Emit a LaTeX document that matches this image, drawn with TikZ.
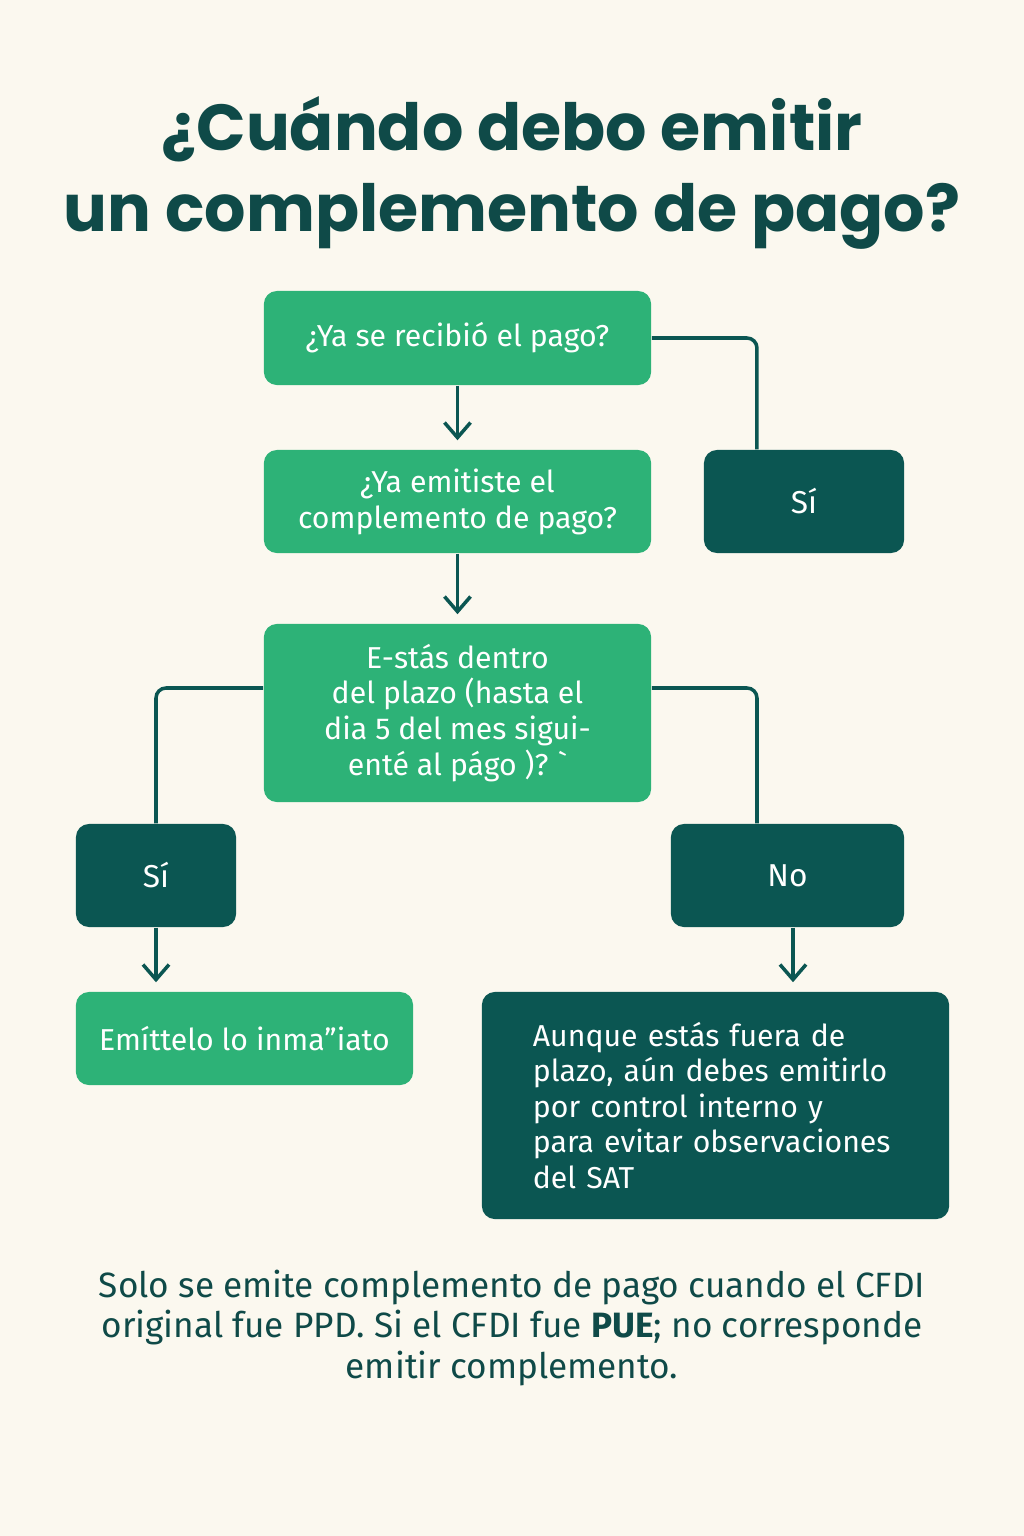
\documentclass[tikz,border=0pt]{standalone}
\usepackage{fontspec}
\setmainfont{Fira Sans}
\newfontfamily\titlefont{Poppins}
\usetikzlibrary{arrows.meta,positioning}

\definecolor{bgcream}{HTML}{FBF8EF}
\definecolor{leafgreen}{HTML}{2DB277}
\definecolor{deepteal}{HTML}{0B5652}
\definecolor{inkteal}{HTML}{0F4A48}

\begin{document}
\begin{tikzpicture}[x=0.01cm, y=-0.01cm,
    qbox/.style = {fill=leafgreen, rounded corners=0.13cm, text=white, align=center,
                   font=\fontsize{8.6}{10.2}\selectfont, inner sep=0pt},
    abox/.style = {fill=deepteal, rounded corners=0.13cm, text=white, align=center,
                   font=\fontsize{9}{10.2}\selectfont, inner sep=0pt},
    link/.style = {draw=deepteal, line width=1pt, rounded corners=0.1cm},
    flow/.style = {link, -{Straight Barb[length=1.5mm, width=2.6mm, line width=1pt]}, shorten >=0.09cm}]

    \fill[bgcream] (0,0) rectangle (1024,1536);
    \useasboundingbox (0,0) rectangle (1024,1536);

    % title
    \node[text=inkteal, font=\titlefont\bfseries\fontsize{18.5}{22.8}\selectfont, align=center]
        (title) at (512,173) {¿Cuándo debo emitir\\un complemento de pago?};

    % questions
    \node[qbox, minimum width=3.87cm, minimum height=0.94cm] (q1) at (457.5,338) {¿Ya se recibió el pago?};
    \node[qbox, minimum width=3.87cm, minimum height=1.03cm] (q2) at (457.5,501.5) {¿Ya emitiste el\\complemento de pago?};
    \node[qbox, minimum width=3.87cm, minimum height=1.78cm] (q3) at (457.5,713)
        {E-stás dentro\\del plazo (hasta el\\dia 5 del mes sigui-\\enté al págo )? \`{}};

    % answers
    \node[abox, minimum width=2.00cm, minimum height=1.03cm] (si1) at (804,501.5) {Sí};
    \node[abox, minimum width=1.60cm, minimum height=1.03cm] (si2) at (156,875.5) {Sí};
    \node[abox, minimum width=2.33cm, minimum height=1.03cm] (no) at (787.5,875.5) {No};

    % actions
    \node[qbox, minimum width=3.37cm, minimum height=0.93cm] (act1) at (244.5,1038.5) {Emíttelo lo inma”iato};
    \node[abox, minimum height=2.27cm, align=left, text width=3.65cm, inner xsep=0.51cm,
          font=\fontsize{8.6}{10.1}\selectfont] (act2) at (715.5,1105.5)
        {Aunque estás fuera de\\plazo, aún debes emitirlo\\por control interno y\\para evitar observaciones\\del SAT};

    % connectors
    \draw[flow] (q1) -- (q2);
    \draw[flow] (q2) -- (q3);
    \draw[link] (q1.east) -| ([xshift=-0.47cm]si1.north);
    \draw[link] ([yshift=0.25cm]q3.west) -| (si2.north);
    \draw[link] ([yshift=0.25cm]q3.east) -| ([xshift=-0.305cm]no.north);
    \draw[flow] (si2.south) -- (si2.south |- act1.north);
    \draw[flow] ([xshift=0.055cm]no.south) -- ([xshift=0.055cm]no.south |- act2.north);

    % note
    \node[text=inkteal, align=center, font=\fontsize{10}{11.6}\selectfont] (note) at (512,1328)
        {Solo se emite complemento de pago cuando el CFDI\\original fue PPD. Si el CFDI fue \textbf{PUE}; no corresponde\\emitir complemento.};

\end{tikzpicture}
\end{document}
